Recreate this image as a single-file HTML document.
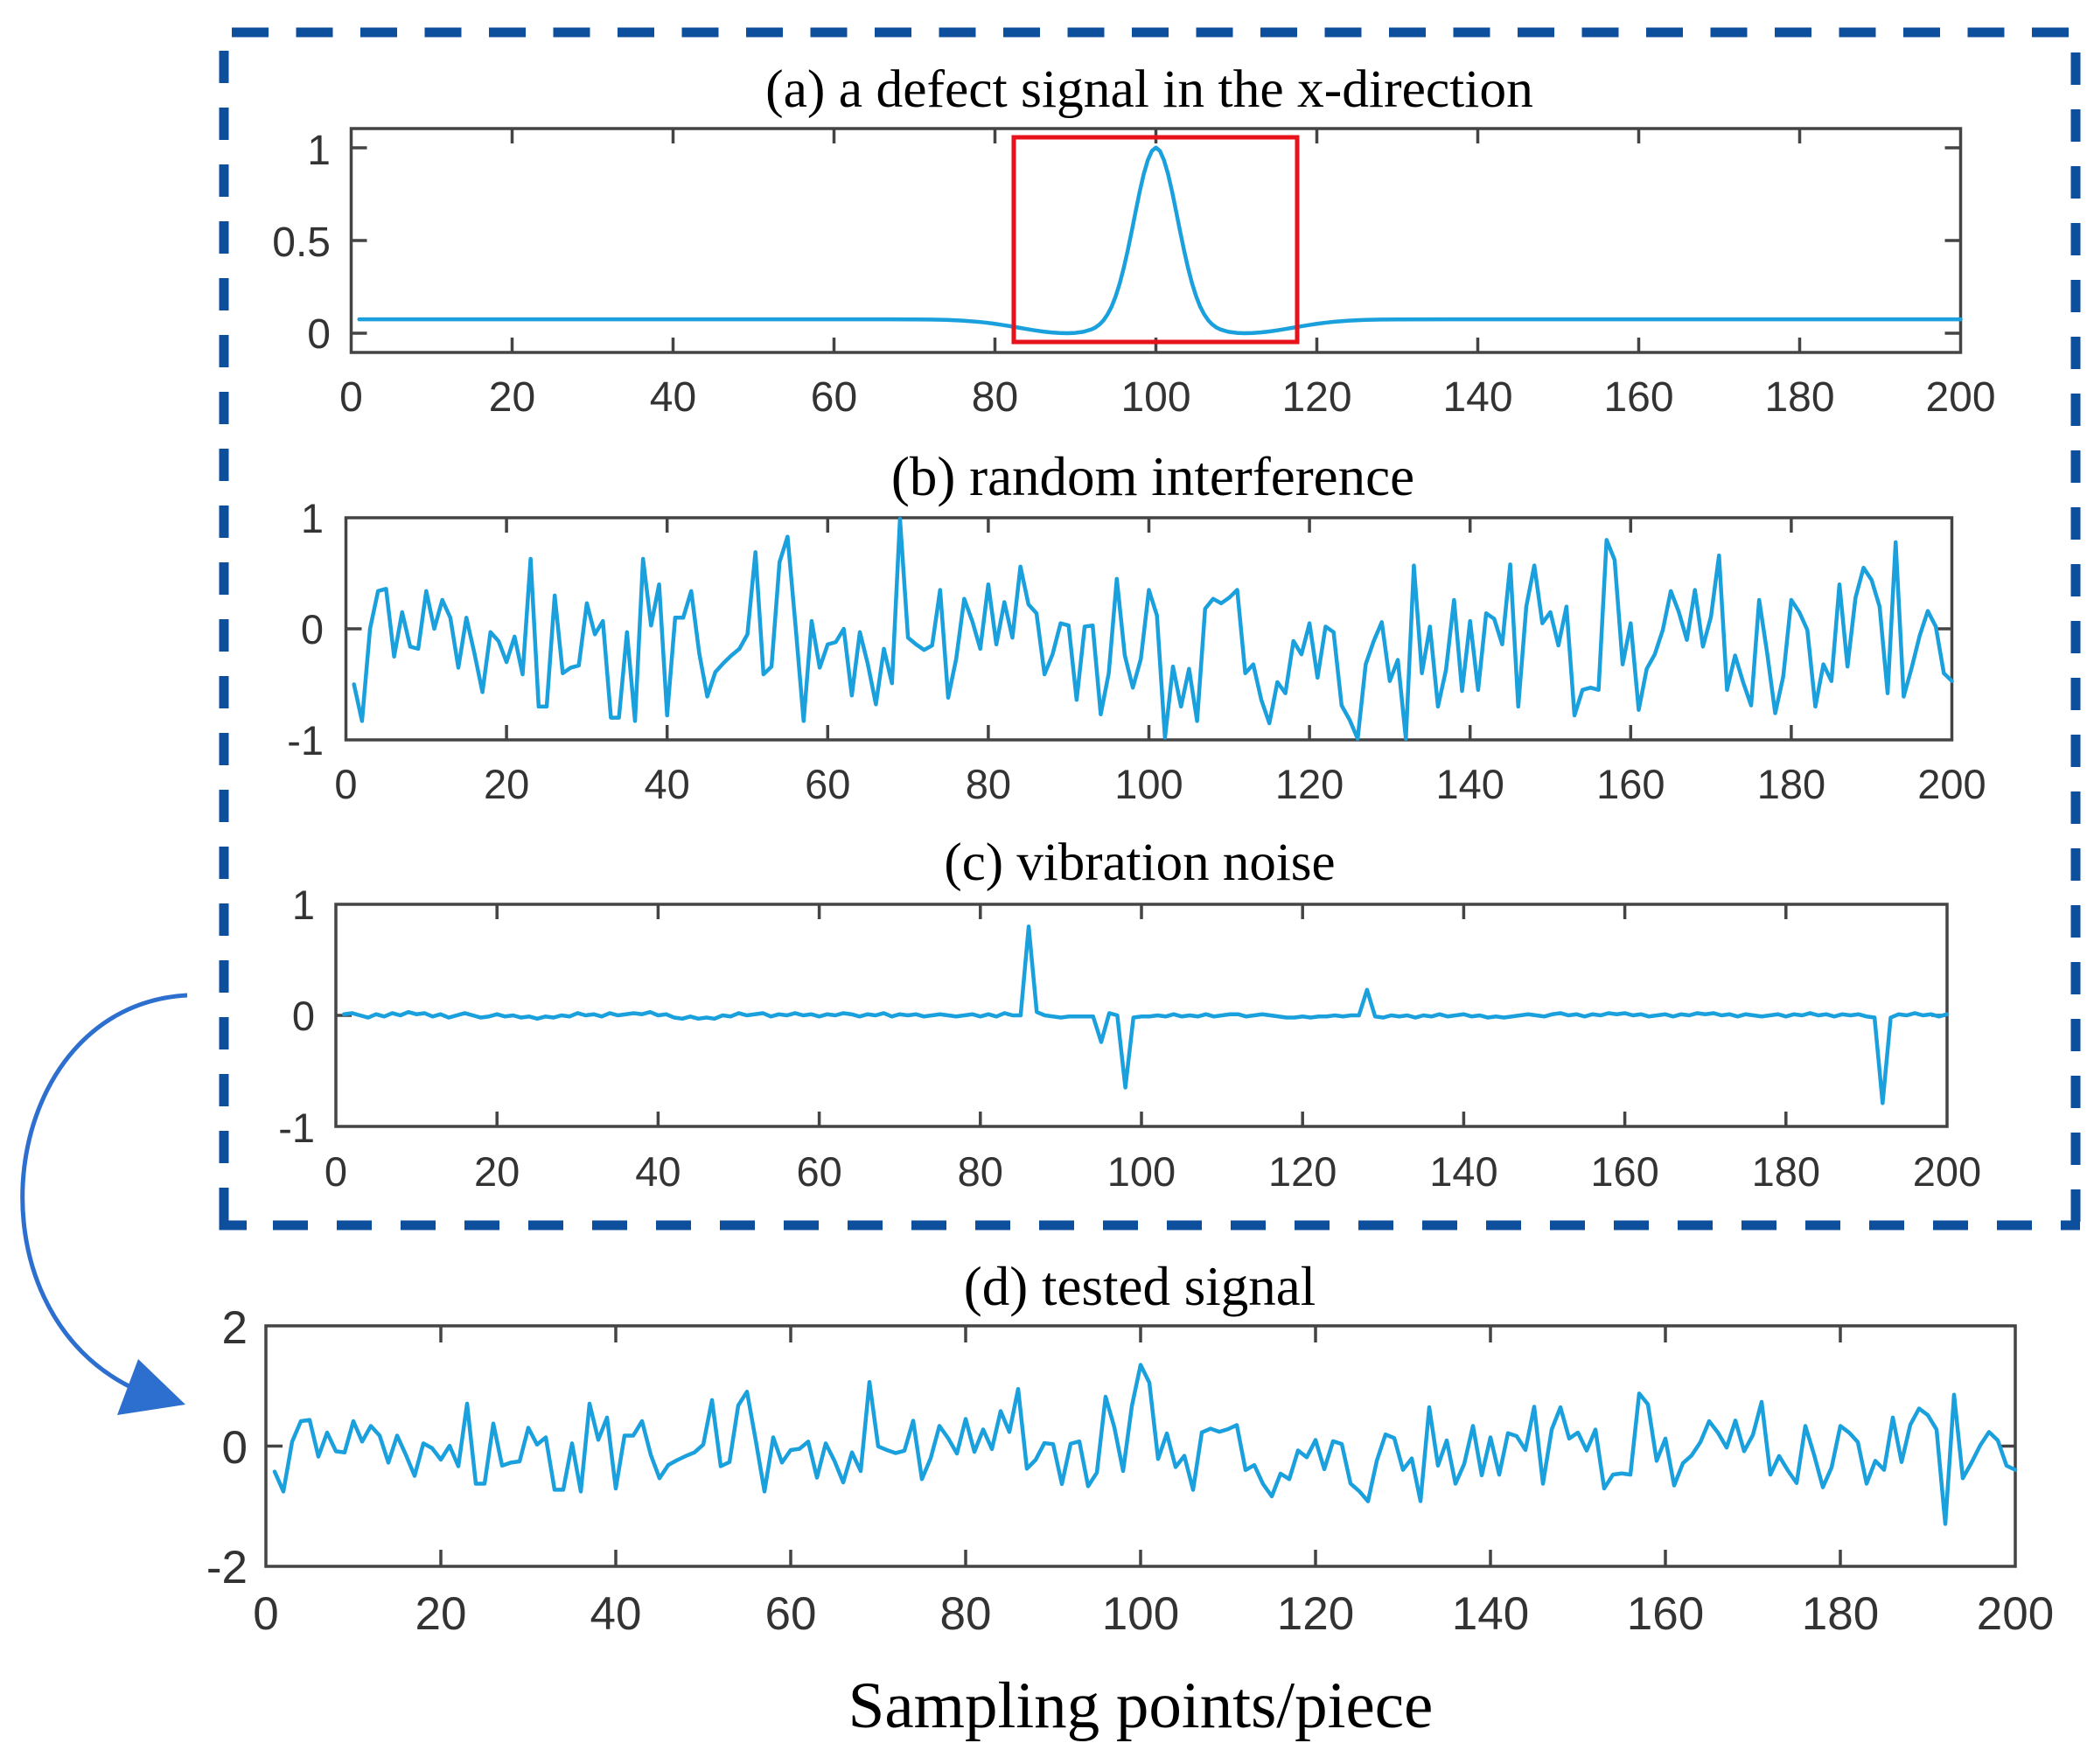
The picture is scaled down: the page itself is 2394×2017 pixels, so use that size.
<!DOCTYPE html>
<html><head><meta charset="utf-8"><style>
html,body{margin:0;padding:0;background:#fff;}
svg{display:block;}
.t{font-family:"Liberation Serif",serif;fill:#000;text-anchor:middle;}
.xl{font-family:"Liberation Sans",sans-serif;fill:#333;text-anchor:middle;}
.yl{font-family:"Liberation Sans",sans-serif;fill:#333;text-anchor:end;}
.ax{fill:none;stroke:#444;stroke-width:3.5;}
.tk{fill:none;stroke:#444;stroke-width:3.5;}
.ln{fill:none;stroke:#1aa0dc;stroke-width:4.5;stroke-linejoin:round;stroke-linecap:round;}
.db{stroke:#0d4f9c;stroke-width:11;fill:none;}
</style></head><body>
<svg width="2394" height="2017" viewBox="0 0 2394 2017" xmlns="http://www.w3.org/2000/svg">
<rect width="2394" height="2017" fill="#fff"/>

<!-- dashed border -->
<line class="db" x1="265" y1="37" x2="2366" y2="37" stroke-dasharray="42 31.5"/>
<line class="db" x1="256" y1="58" x2="256" y2="1396" stroke-dasharray="37 28"/>
<line class="db" x1="2373" y1="60" x2="2373" y2="1401" stroke-dasharray="37 28"/>
<line class="db" x1="312" y1="1401" x2="2378" y2="1401" stroke-dasharray="40 33"/>
<path class="db" d="M256,1364 L256,1401 L282,1401"/>

<!-- arrow -->
<path d="M214,1138 C-5,1150 -45,1500 158,1590" fill="none" stroke="#2c6fcf" stroke-width="5"/>
<polygon points="212,1606 158,1554 134,1618" fill="#2c6fcf"/>

<!-- ===== (a) ===== -->
<text class="t" x="1314" y="122" font-size="61.5">(a) a defect signal in the x-direction</text>
<rect class="ax" x="401.5" y="147" width="1840" height="256"/>
<path class="tk" d="M585.5,147v17M769.5,147v17M953.5,147v17M1137.5,147v17M1321.5,147v17M1505.5,147v17M1689.5,147v17M1873.5,147v17M2057.5,147v17
M585.5,403v-17M769.5,403v-17M953.5,403v-17M1137.5,403v-17M1321.5,403v-17M1505.5,403v-17M1689.5,403v-17M1873.5,403v-17M2057.5,403v-17
M401.5,169h18M401.5,275h18M401.5,381h18M2241.5,169h-18M2241.5,275h-18M2241.5,381h-18"/>
<g class="xl" font-size="48">
<text x="401.5" y="470">0</text><text x="585.5" y="470">20</text><text x="769.5" y="470">40</text><text x="953.5" y="470">60</text><text x="1137.5" y="470">80</text><text x="1321.5" y="470">100</text><text x="1505.5" y="470">120</text><text x="1689.5" y="470">140</text><text x="1873.5" y="470">160</text><text x="2057.5" y="470">180</text><text x="2241.5" y="470">200</text>
</g>
<g class="yl" font-size="48">
<text x="378" y="188">1</text><text x="378" y="293">0.5</text><text x="378" y="398">0</text>
</g>
<g transform="translate(401.5,381) scale(9.2,-212)">
<polyline class="ln" vector-effect="non-scaling-stroke" points="1,0.075 60,0.075 70,0.0745 72,0.0736 74,0.0717 76,0.0678 78,0.061 79,0.0563 80,0.0506 81,0.044 82,0.037 83,0.0295 84,0.022 85,0.015 86,0.0088 87,0.004 88,0.001 89,0 90,0.002 91,0.0076 92,0.0205 92.5,0.0315 93,0.0476 93.5,0.070 94,0.102 94.5,0.1437 95,0.199 95.5,0.268 96,0.351 96.5,0.4465 97,0.551 97.5,0.660 98,0.766 98.5,0.860 99,0.934 99.5,0.983 100,1.001 100.5,0.983 101,0.934 101.5,0.860 102,0.766 102.5,0.660 103,0.551 103.5,0.4465 104,0.351 104.5,0.268 105,0.199 105.5,0.1437 106,0.102 106.5,0.070 107,0.0476 107.5,0.0315 108,0.0205 109,0.0076 110,0.002 111,0 112,0.001 113,0.004 114,0.0088 115,0.015 116,0.022 117,0.0295 118,0.037 119,0.044 120,0.0506 121,0.0563 122,0.061 124,0.0678 126,0.0717 128,0.0736 130,0.0745 140,0.075 200,0.075"/>
</g>
<rect x="1159" y="157" width="324" height="234" fill="none" stroke="#e8121a" stroke-width="5"/>

<!-- ===== (b) ===== -->
<text class="t" x="1318" y="566" font-size="63">(b) random interference</text>
<rect class="ax" x="395.5" y="592" width="1836" height="254"/>
<path class="tk" d="M579.1,592v17M762.7,592v17M946.3,592v17M1129.9,592v17M1313.5,592v17M1497.1,592v17M1680.7,592v17M1864.3,592v17M2047.9,592v17
M579.1,846v-17M762.7,846v-17M946.3,846v-17M1129.9,846v-17M1313.5,846v-17M1497.1,846v-17M1680.7,846v-17M1864.3,846v-17M2047.9,846v-17
M395.5,719h18M2231.5,719h-18"/>
<g class="xl" font-size="47">
<text x="395.5" y="913">0</text><text x="579.1" y="913">20</text><text x="762.7" y="913">40</text><text x="946.3" y="913">60</text><text x="1129.9" y="913">80</text><text x="1313.5" y="913">100</text><text x="1497.1" y="913">120</text><text x="1680.7" y="913">140</text><text x="1864.3" y="913">160</text><text x="2047.9" y="913">180</text><text x="2231.5" y="913">200</text>
</g>
<g class="yl" font-size="47">
<text x="370" y="609">1</text><text x="370" y="736">0</text><text x="370" y="863">-1</text>
</g>
<g transform="translate(395.5,719) scale(9.18,-127)">
<polyline class="ln" vector-effect="non-scaling-stroke" points="1,-0.5 2,-0.83 3,0 4,0.34 5,0.36 6,-0.25 7,0.15 8,-0.16 9,-0.18 10,0.34 11,0 12,0.26 13,0.1 14,-0.35 15,0.1 16,-0.22 17,-0.57 18,-0.03 19,-0.11 20,-0.3 21,-0.07 22,-0.41 23,0.63 24,-0.7 25,-0.7 26,0.3 27,-0.4 28,-0.35 29,-0.33 30,0.23 31,-0.05 32,0.07 33,-0.8 34,-0.8 35,-0.03 36,-0.83 37,0.63 38,0.03 39,0.4 40,-0.78 41,0.1 42,0.1 43,0.34 44,-0.22 45,-0.61 46,-0.39 47,-0.31 48,-0.24 49,-0.18 50,-0.05 51,0.69 52,-0.41 53,-0.34 54,0.6 55,0.83 56,0.02 57,-0.83 58,0.07 59,-0.35 60,-0.14 61,-0.12 62,0 63,-0.6 64,-0.03 65,-0.32 66,-0.68 67,-0.18 68,-0.49 69,0.99 70,-0.08 71,-0.14 72,-0.19 73,-0.15 74,0.35 75,-0.62 76,-0.27 77,0.27 78,0.07 79,-0.18 80,0.4 81,-0.14 82,0.24 83,-0.08 84,0.56 85,0.22 86,0.14 87,-0.41 88,-0.23 89,0.05 90,0.03 91,-0.64 92,0.02 93,0.03 94,-0.77 95,-0.4 96,0.45 97,-0.24 98,-0.53 99,-0.27 100,0.35 101,0.12 102,-0.98 103,-0.34 104,-0.7 105,-0.36 106,-0.83 107,0.18 108,0.27 109,0.23 110,0.28 111,0.35 112,-0.4 113,-0.32 114,-0.64 115,-0.85 116,-0.48 117,-0.58 118,-0.11 119,-0.23 120,0.05 121,-0.44 122,0.02 123,-0.03 124,-0.69 125,-0.82 126,-0.99 127,-0.32 128,-0.11 129,0.06 130,-0.47 131,-0.28 132,-0.99 133,0.57 134,-0.4 135,0.02 136,-0.7 137,-0.37 138,0.26 139,-0.56 140,0.07 141,-0.55 142,0.14 143,0.09 144,-0.14 145,0.58 146,-0.7 147,0.2 148,0.57 149,0.05 150,0.15 151,-0.15 152,0.2 153,-0.78 154,-0.55 155,-0.53 156,-0.55 157,0.8 158,0.62 159,-0.32 160,0.05 161,-0.73 162,-0.36 163,-0.23 164,-0.01 165,0.34 166,0.15 167,-0.1 168,0.35 169,-0.16 170,0.11 171,0.66 172,-0.55 173,-0.24 174,-0.48 175,-0.69 176,0.26 177,-0.22 178,-0.76 179,-0.43 180,0.26 181,0.15 182,-0.01 183,-0.7 184,-0.32 185,-0.47 186,0.4 187,-0.34 188,0.28 189,0.55 190,0.44 191,0.2 192,-0.58 193,0.78 194,-0.61 195,-0.35 196,-0.06 197,0.16 198,0.02 199,-0.4 200,-0.47"/>
</g>

<!-- ===== (c) ===== -->
<text class="t" x="1303" y="1006" font-size="61">(c) vibration noise</text>
<rect class="ax" x="384" y="1034" width="1842" height="254"/>
<path class="tk" d="M568.2,1034v17M752.4,1034v17M936.6,1034v17M1120.8,1034v17M1305,1034v17M1489.2,1034v17M1673.4,1034v17M1857.6,1034v17M2041.8,1034v17
M568.2,1288v-17M752.4,1288v-17M936.6,1288v-17M1120.8,1288v-17M1305,1288v-17M1489.2,1288v-17M1673.4,1288v-17M1857.6,1288v-17M2041.8,1288v-17
M384,1161h18M2226,1161h-18"/>
<g class="xl" font-size="47">
<text x="384" y="1356">0</text><text x="568.2" y="1356">20</text><text x="752.4" y="1356">40</text><text x="936.6" y="1356">60</text><text x="1120.8" y="1356">80</text><text x="1305" y="1356">100</text><text x="1489.2" y="1356">120</text><text x="1673.4" y="1356">140</text><text x="1857.6" y="1356">160</text><text x="2041.8" y="1356">180</text><text x="2226" y="1356">200</text>
</g>
<g class="yl" font-size="47">
<text x="360" y="1051">1</text><text x="360" y="1178">0</text><text x="360" y="1306">-1</text>
</g>
<g transform="translate(384,1161) scale(9.21,-127)">
<polyline class="ln" vector-effect="non-scaling-stroke" points="1,0.01 2,0.02 3,0 4,-0.02 5,0.01 6,-0.01 7,0.02 8,0 9,0.03 10,0.01 11,0.02 12,-0.01 13,0.01 14,-0.02 15,0 16,0.02 17,0 18,-0.02 19,-0.01 20,0.01 21,-0.01 22,0 23,-0.02 24,-0.01 25,-0.03 26,-0.01 27,-0.02 28,0 29,-0.01 30,0.02 31,0 32,0.01 33,-0.01 34,0.02 35,0 36,0.01 37,0.02 38,0.01 39,0.03 40,0 41,0.01 42,-0.02 43,-0.03 44,-0.01 45,-0.03 46,-0.02 47,-0.03 48,0 49,-0.01 50,0.02 51,0 52,0.01 53,0.02 54,-0.01 55,0.01 56,0 57,0.02 58,0 59,0.01 60,-0.01 61,0.01 62,0 63,0.02 64,0.01 65,-0.01 66,0.01 67,0 68,0.02 69,-0.01 70,0.01 71,0 72,0.01 73,-0.01 74,0 75,0.01 76,0 77,-0.01 78,0 79,0.01 80,-0.01 81,0.01 82,-0.01 83,0.02 84,0 85,0 86,0.8 87,0.03 88,0 89,-0.01 90,-0.02 91,-0.01 92,-0.01 93,-0.01 94,-0.01 95,-0.24 96,0.02 97,0 98,-0.65 99,-0.02 100,-0.01 101,-0.01 102,0 103,-0.01 104,0.01 105,-0.01 106,0 107,-0.01 108,0.01 109,-0.01 110,0 111,0.01 112,0.01 113,-0.01 114,0 115,0.01 116,0 117,-0.01 118,-0.02 119,-0.02 120,-0.01 121,-0.02 122,-0.01 123,-0.01 124,0 125,-0.01 126,0 127,0 128,0.23 129,-0.01 130,-0.02 131,0 132,-0.01 133,0 134,-0.02 135,0 136,-0.01 137,0.01 138,-0.01 139,0 140,0.01 141,-0.01 142,0 143,-0.02 144,-0.01 145,-0.02 146,-0.01 147,0 148,0.01 149,0 150,-0.01 151,0.01 152,0.02 153,0 154,0.01 155,-0.01 156,0.01 157,0 158,0.02 159,0.01 160,0.02 161,0 162,0.01 163,-0.01 164,0 165,0.01 166,-0.01 167,0.01 168,0 169,0.02 170,0.01 171,0.02 172,0 173,0.01 174,-0.01 175,0.01 176,0 177,-0.01 178,0 179,0.01 180,-0.01 181,0.01 182,0 183,0.02 184,0 185,0.01 186,-0.01 187,0.01 188,0 189,0.01 190,-0.01 191,-0.02 192,-0.79 193,-0.02 194,0.01 195,0 196,0.02 197,0 198,0.01 199,-0.01 200,0.01"/>
</g>

<!-- ===== (d) ===== -->
<text class="t" x="1303" y="1492" font-size="63">(d) tested signal</text>
<rect class="ax" x="304" y="1516" width="2000" height="275"/>
<path class="tk" d="M504,1516v19M704,1516v19M904,1516v19M1104,1516v19M1304,1516v19M1504,1516v19M1704,1516v19M1904,1516v19M2104,1516v19
M504,1791v-19M704,1791v-19M904,1791v-19M1104,1791v-19M1304,1791v-19M1504,1791v-19M1704,1791v-19M1904,1791v-19M2104,1791v-19
M304,1653.5h19M2304,1653.5h-19"/>
<g class="xl" font-size="53">
<text x="304" y="1863">0</text><text x="504" y="1863">20</text><text x="704" y="1863">40</text><text x="904" y="1863">60</text><text x="1104" y="1863">80</text><text x="1304" y="1863">100</text><text x="1504" y="1863">120</text><text x="1704" y="1863">140</text><text x="1904" y="1863">160</text><text x="2104" y="1863">180</text><text x="2304" y="1863">200</text>
</g>
<g class="yl" font-size="53">
<text x="283" y="1536">2</text><text x="283" y="1673">0</text><text x="283" y="1810">-2</text>
</g>
<g transform="translate(304,1653.5) scale(10,-68.75)">
<polyline class="ln" vector-effect="non-scaling-stroke" points="1,-0.425 2,-0.755 3,0.075 4,0.415 5,0.435 6,-0.175 7,0.225 8,-0.085 9,-0.105 10,0.415 11,0.075 12,0.335 13,0.175 14,-0.275 15,0.175 16,-0.145 17,-0.495 18,0.045 19,-0.035 20,-0.225 21,0.005 22,-0.335 23,0.705 24,-0.625 25,-0.625 26,0.375 27,-0.325 28,-0.275 29,-0.255 30,0.305 31,0.025 32,0.145 33,-0.725 34,-0.725 35,0.045 36,-0.755 37,0.705 38,0.105 39,0.475 40,-0.705 41,0.175 42,0.175 43,0.415 44,-0.145 45,-0.535 46,-0.315 47,-0.235 48,-0.165 49,-0.105 50,0.025 51,0.765 52,-0.335 53,-0.265 54,0.675 55,0.905 56,0.095 57,-0.755 58,0.145 59,-0.275 60,-0.065 61,-0.045 62,0.075 63,-0.525 64,0.045 65,-0.245 66,-0.605 67,-0.105 68,-0.415 69,1.065 70,-0.005 71,-0.066 72,-0.116 73,-0.077 74,0.422 75,-0.55 76,-0.202 77,0.335 78,0.131 79,-0.124 80,0.451 81,-0.096 82,0.277 83,-0.05 84,0.582 85,0.235 86,0.949 87,-0.376 88,-0.229 89,0.05 90,0.032 91,-0.632 92,0.04 93,0.078 94,-0.668 95,-0.441 96,0.821 97,0.311 98,-0.414 99,0.664 100,1.351 101,1.054 102,-0.214 103,0.211 104,-0.349 105,-0.161 106,-0.728 107,0.228 108,0.29 109,0.238 110,0.282 111,0.35 112,-0.399 113,-0.316 114,-0.631 115,-0.835 116,-0.458 117,-0.55 118,-0.073 119,-0.186 120,0.101 121,-0.384 122,0.081 123,0.035 124,-0.622 125,-0.75 126,-0.918 127,-0.247 128,0.194 129,0.134 130,-0.395 131,-0.205 132,-0.915 133,0.645 134,-0.325 135,0.095 136,-0.625 137,-0.295 138,0.335 139,-0.485 140,0.145 141,-0.475 142,0.215 143,0.165 144,-0.065 145,0.655 146,-0.625 147,0.275 148,0.645 149,0.125 150,0.225 151,-0.075 152,0.275 153,-0.705 154,-0.475 155,-0.455 156,-0.475 157,0.875 158,0.695 159,-0.245 160,0.125 161,-0.655 162,-0.285 163,-0.155 164,0.065 165,0.415 166,0.225 167,-0.025 168,0.425 169,-0.085 170,0.185 171,0.735 172,-0.475 173,-0.165 174,-0.405 175,-0.615 176,0.335 177,-0.145 178,-0.685 179,-0.355 180,0.335 181,0.225 182,0.065 183,-0.625 184,-0.245 185,-0.395 186,0.475 187,-0.265 188,0.355 189,0.625 190,0.515 191,0.275 192,-1.295 193,0.855 194,-0.535 195,-0.275 196,0.015 197,0.235 198,0.095 199,-0.325 200,-0.395"/>
</g>

<text class="t" x="1304" y="1975" font-size="75">Sampling points/piece</text>
</svg>
</body></html>
